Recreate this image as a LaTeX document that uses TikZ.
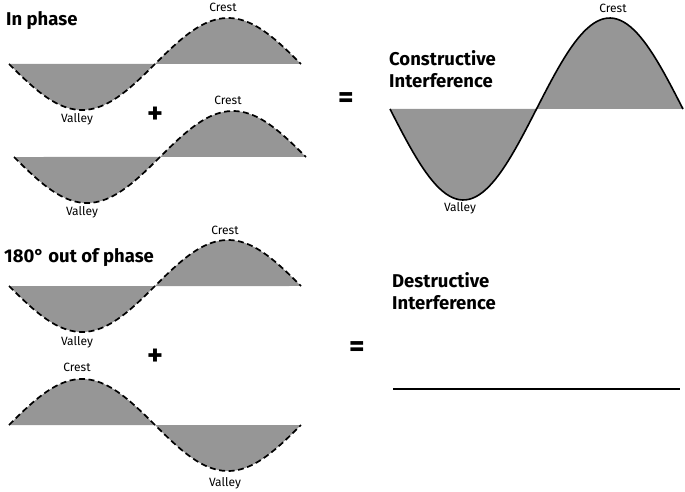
\documentclass[tikz,border=0pt]{standalone}
\usepackage{fontspec}
\setmainfont{Fira Sans}
\usepackage{tikz}
\usetikzlibrary{positioning}
\definecolor{wavegray}{RGB}{150,150,150}

% one wave: x0, y0, half period, amplitude, sign, line style
\newcommand{\wavepath}[6]{%
  \fill[wavegray] (#1,#2) -- plot[domain=0:2*#3, samples=90] ({#1+\x},{#2+#5*#4*sin(\x/#3*180)}) -- cycle;
  \draw[#6] plot[domain=0:2*#3, samples=90] ({#1+\x},{#2+#5*#4*sin(\x/#3*180)});
}

\begin{document}
\begin{tikzpicture}[x=1pt, y=-1pt]
        \tikzstyle{dashwave} = [black, line width=1.7pt, dash pattern=on 6pt off 3.5pt]
        \tikzstyle{solidwave} = [black, line width=1.6pt]
        \tikzstyle{heading} = [anchor=west, inner sep=0pt, font=\bfseries\fontsize{18.5}{22.5}\selectfont, align=left]
        \tikzstyle{marklabel} = [inner sep=0pt, font=\fontsize{12}{14}\selectfont]
        \tikzstyle{opsign} = [inner sep=0pt, font=\bfseries\fontsize{30}{30}\selectfont]
        \useasboundingbox (0,0) rectangle (685,492);

        % in phase
        \wavepath{9}{64}{146}{46}{1}{dashwave}
        \wavepath{14}{157}{146}{46}{1}{dashwave}
        \node[heading] (inphase) at (6,21) {In phase};
        \node[marklabel] (crest1) at (223,7) {Crest};
        \node[marklabel] (valley1) at (77,119) {Valley};
        \node[marklabel] (crest2) at (228,100) {Crest};
        \node[marklabel] (valley2) at (82,212) {Valley};
        \node[opsign] (plus1) at (155,115) {+};
        \node[opsign] (eq1) at (346,100) {=};

        % constructive result
        \wavepath{390}{109}{146.5}{91}{1}{solidwave}
        \node[heading] (constr) at (389,69) {Constructive\\Interference};
        \node[marklabel] (crest5) at (613,8) {Crest};
        \node[marklabel] (valley5) at (460,208) {Valley};

        % 180 out of phase
        \wavepath{9}{286}{146}{46}{1}{dashwave}
        \wavepath{9}{425}{146}{46}{-1}{dashwave}
        \node[heading] (outphase) at (4,258) {180° out of phase};
        \node[marklabel] (crest3) at (225,230) {Crest};
        \node[marklabel] (valley3) at (77,342) {Valley};
        \node[marklabel] (crest4) at (77,367) {Crest};
        \node[marklabel] (valley4) at (225,483) {Valley};
        \node[opsign] (plus2) at (155,357) {+};
        \node[opsign] (eq2) at (357,349) {=};

        % destructive result
        \node[heading] (destr) at (392,291) {Destructive\\Interference};
        \draw[solidwave] (393,389) -- (680,389);
    \end{tikzpicture}
\end{document}
